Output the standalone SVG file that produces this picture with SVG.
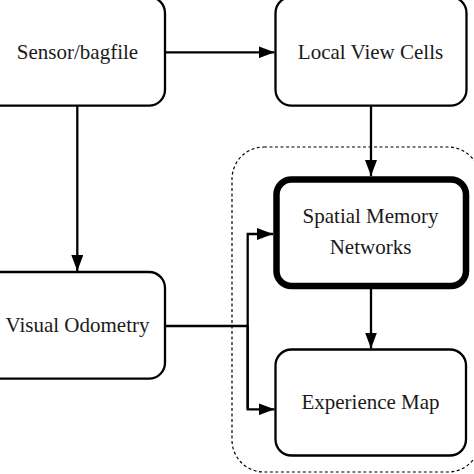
<svg xmlns="http://www.w3.org/2000/svg" width="474" height="474" viewBox="0 0 474 474">
<style>
.box{fill:#fff;stroke:#000;stroke-width:2.3}
.thick{fill:#fff;stroke:#000;stroke-width:6.5}
.lbl{font-family:"Liberation Serif","Times New Roman",serif;font-size:21px;fill:#1a1a1a;text-anchor:middle}
.conn{fill:none;stroke:#000;stroke-width:2.3}
.group{fill:none;stroke:#000;stroke-width:1.2;stroke-dasharray:3 2.5}
</style>
<defs>
<marker id="arr" viewBox="0 0 16 12" refX="16" refY="6" markerWidth="16" markerHeight="12" markerUnits="userSpaceOnUse" orient="auto">
<path d="M0,0 L16,6 L0,12 Z" fill="#000"/>
</marker>
</defs>
<rect width="474" height="474" fill="#fff"/>
<rect id="container" class="group" x="232" y="147" width="248" height="325" rx="32"/>
<g id="connectors">
<line class="conn" x1="165" y1="52.3" x2="274.5" y2="52.3" marker-end="url(#arr)"/>
<line class="conn" x1="77.3" y1="106" x2="77.3" y2="271" marker-end="url(#arr)"/>
<line class="conn" x1="371" y1="106" x2="371" y2="176" marker-end="url(#arr)"/>
<line class="conn" x1="371" y1="289" x2="371" y2="348.5" marker-end="url(#arr)"/>
<polyline class="conn" points="165,326 247.7,326"/>
<polyline class="conn" points="247.7,409.3 247.7,234 273,234" marker-end="url(#arr)"/>
<polyline class="conn" points="247.7,326 247.7,409.3 274.5,409.3" marker-end="url(#arr)"/>
</g>
<g id="sensor">
<rect class="box" x="-25" y="-3" width="190" height="108.7" rx="16"/>
<text class="lbl" x="77.5" y="59.3">Sensor/bagfile</text>
</g>
<g id="local-view-cells">
<rect class="box" x="275.5" y="-3" width="191" height="108.7" rx="16"/>
<text class="lbl" x="370.5" y="59.3">Local View Cells</text>
</g>
<g id="spatial-memory">
<rect class="thick" x="276.5" y="179.5" width="189.5" height="106.5" rx="15"/>
<text class="lbl" x="370.5" y="223.3">Spatial Memory</text>
<text class="lbl" x="370.5" y="253.7">Networks</text>
</g>
<g id="visual-odometry">
<rect class="box" x="-25" y="272" width="190" height="106.7" rx="16"/>
<text class="lbl" x="77.5" y="332">Visual Odometry</text>
</g>
<g id="experience-map">
<rect class="box" x="275.5" y="349.5" width="190.5" height="106" rx="16"/>
<text class="lbl" x="370.5" y="408.7">Experience Map</text>
</g>
</svg>
